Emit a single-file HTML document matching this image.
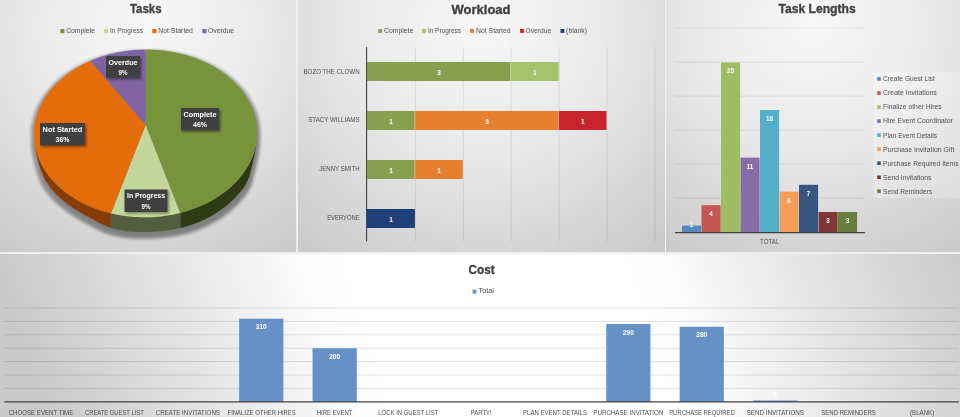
<!DOCTYPE html>
<html><head><meta charset="utf-8"><title>Dashboard</title>
<style>html,body{margin:0;padding:0;background:#efefef;width:960px;height:417px;overflow:hidden}svg{display:block}</style>
</head><body>
<svg width="960" height="417" viewBox="0 0 960 417" font-family="Liberation Sans, Arial, sans-serif">
<defs>
<radialGradient id="g1" gradientUnits="userSpaceOnUse" cx="148" cy="25" r="285"><stop offset="0" stop-color="#f8f8f8"/><stop offset="0.45" stop-color="#e8e8e8"/><stop offset="0.7" stop-color="#d8d8d8"/><stop offset="1" stop-color="#c6c6c6"/></radialGradient>
<radialGradient id="g3" gradientUnits="userSpaceOnUse" cx="481" cy="25" r="305"><stop offset="0" stop-color="#f8f8f8"/><stop offset="0.45" stop-color="#e8e8e8"/><stop offset="0.7" stop-color="#d8d8d8"/><stop offset="1" stop-color="#c6c6c6"/></radialGradient>
<radialGradient id="g4" gradientUnits="userSpaceOnUse" cx="813" cy="25" r="285"><stop offset="0" stop-color="#f8f8f8"/><stop offset="0.45" stop-color="#e8e8e8"/><stop offset="0.7" stop-color="#d8d8d8"/><stop offset="1" stop-color="#c6c6c6"/></radialGradient>
<linearGradient id="g2" gradientUnits="userSpaceOnUse" x1="52.5" y1="431" x2="927.5" y2="129"><stop offset="0" stop-color="#c9c9c9"/><stop offset="0.309" stop-color="#fbfbfb"/><stop offset="0.36" stop-color="#ffffff"/><stop offset="0.64" stop-color="#ffffff"/><stop offset="0.691" stop-color="#fbfbfb"/><stop offset="1" stop-color="#c9c9c9"/></linearGradient>
<filter id="sh" x="-20%" y="-20%" width="140%" height="160%"><feGaussianBlur stdDeviation="2.5"/></filter><filter id="sh2" x="-20%" y="-20%" width="140%" height="160%"><feMorphology operator="dilate" radius="2.5"/><feGaussianBlur stdDeviation="1.8"/></filter>
<filter id="lsh" x="-20%" y="-20%" width="150%" height="150%"><feDropShadow dx="1.5" dy="1.5" stdDeviation="1" flood-color="#000" flood-opacity="0.4"/></filter>
</defs>
<rect width="960" height="417" fill="#efefef"/>
<rect x="0" y="0" width="296" height="252" fill="url(#g1)"/>
<rect x="298" y="0" width="367" height="252" fill="url(#g3)"/>
<rect x="666" y="0" width="294" height="252" fill="url(#g4)"/>
<rect x="0" y="254" width="960" height="163" fill="url(#g2)"/>
<text x="129.90" y="13.35" font-size="13.70" fill="#404040" font-weight="bold" textLength="31.65" lengthAdjust="spacingAndGlyphs" stroke="#404040" stroke-width="0.35">Tasks</text>
<rect x="60.3" y="29" width="4.2" height="4.2" fill="#77933c"/>
<text x="66.25" y="33.00" font-size="6.40" fill="#4f4f4f" textLength="28.85" lengthAdjust="spacingAndGlyphs">Complete</text>
<rect x="104.2" y="29" width="4.2" height="4.2" fill="#c3d69b"/>
<text x="110.00" y="33.00" font-size="6.40" fill="#4f4f4f" textLength="33.00" lengthAdjust="spacingAndGlyphs">In Progress</text>
<rect x="152.3" y="29" width="4.2" height="4.2" fill="#e46c0a"/>
<text x="158.30" y="33.00" font-size="6.40" fill="#4f4f4f" textLength="34.60" lengthAdjust="spacingAndGlyphs">Not Started</text>
<rect x="202.3" y="29" width="4.2" height="4.2" fill="#8064a2"/>
<text x="208.00" y="33.00" font-size="6.40" fill="#4f4f4f" textLength="26.00" lengthAdjust="spacingAndGlyphs">Overdue</text>
<g opacity="0.13" transform="translate(2 6)" filter="url(#sh)"><polygon points="145.6,49.5 149.1,49.5 152.6,49.6 156.1,49.8 159.6,50.1 163.1,50.4 166.6,50.9 170.0,51.4 173.4,52.0 176.9,52.7 180.2,53.4 183.6,54.3 186.9,55.2 190.2,56.2 193.4,57.3 196.6,58.5 199.7,59.7 202.8,61.0 205.9,62.4 208.9,63.9 211.8,65.5 214.6,67.1 217.4,68.8 220.2,70.5 222.8,72.4 225.4,74.3 227.9,76.3 230.3,78.3 232.7,80.4 234.9,82.6 237.1,84.8 239.1,87.1 241.1,89.4 243.0,91.8 244.7,94.3 246.4,96.8 247.9,99.4 249.4,102.0 250.7,104.6 251.9,107.3 253.0,110.0 254.0,112.8 254.8,115.6 255.5,118.4 256.1,121.3 256.6,124.2 256.9,127.1 257.1,130.0 257.2,132.9 257.1,135.9 256.8,138.8 256.5,141.8 256.0,144.8 255.3,147.7 254.6,150.7 253.6,153.6 252.6,156.5 251.3,159.4 250.0,162.3 248.5,165.1 246.8,168.0 245.0,170.7 243.1,173.5 241.1,176.2 238.9,178.8 236.5,181.4 234.1,183.9 231.5,186.4 228.7,188.8 225.9,191.1 222.9,193.3 219.8,195.5 216.6,197.6 213.3,199.6 209.9,201.5 206.4,203.3 202.8,205.0 199.1,206.6 195.3,208.1 191.5,209.5 187.5,210.8 183.5,212.0 179.5,213.1 175.3,214.0 171.2,214.9 167.0,215.6 162.7,216.2 158.5,216.6 154.2,217.0 149.9,217.2 145.6,217.3 141.2,217.2 136.9,217.1 132.7,216.8 128.4,216.4 124.1,215.9 119.9,215.2 115.8,214.4 111.7,213.5 107.6,212.5 103.6,211.4 99.7,210.1 95.8,208.8 92.0,207.3 88.3,205.8 84.7,204.1 81.2,202.3 77.8,200.5 74.5,198.5 71.3,196.5 68.2,194.3 65.2,192.1 62.4,189.8 59.7,187.5 57.1,185.1 54.6,182.6 52.3,180.0 50.1,177.4 48.0,174.7 46.1,172.0 44.3,169.3 42.6,166.5 41.1,163.7 39.8,160.8 38.6,157.9 37.5,155.0 36.6,152.1 35.8,149.2 35.1,146.2 34.6,143.3 34.3,140.3 34.0,137.3 34.0,134.4 34.0,131.5 34.2,128.5 34.5,125.6 35.0,122.7 35.6,119.9 36.3,117.0 37.1,114.2 38.1,111.4 39.2,108.7 40.4,106.0 41.7,103.3 43.2,100.7 44.7,98.1 46.4,95.6 48.2,93.1 50.0,90.7 52.0,88.3 54.0,86.0 56.2,83.7 58.5,81.5 60.8,79.4 63.2,77.3 65.7,75.3 68.3,73.4 70.9,71.5 73.7,69.7 76.5,68.0 79.3,66.3 82.3,64.7 85.2,63.2 88.3,61.8 91.4,60.4 94.5,59.1 97.7,57.9 101.0,56.8 104.2,55.8 107.5,54.8 110.9,53.9 114.3,53.1 117.7,52.4 121.1,51.7 124.6,51.2 128.0,50.7 131.5,50.3 135.0,50.0 138.5,49.7 142.0,49.6"/><polygon points="34.5,125.6 35.0,122.7 35.6,119.9 36.3,117.0 37.1,114.2 38.1,111.4 39.2,108.7 40.4,106.0 41.7,103.3 43.2,100.7 44.7,98.1 46.4,95.6 48.2,93.1 50.0,90.7 52.0,88.3 54.0,86.0 56.2,83.7 58.5,81.5 60.8,79.4 63.2,77.3 65.7,75.3 68.3,73.4 70.9,71.5 73.7,69.7 76.5,68.0 79.3,66.3 82.3,64.7 85.2,63.2 88.3,61.8 91.4,60.4 94.5,59.1 97.7,57.9 101.0,56.8 104.2,55.8 107.5,54.8 110.9,53.9 114.3,53.1 117.7,52.4 121.1,51.7 124.6,51.2 128.0,50.7 131.5,50.3 135.0,50.0 138.5,49.7 142.0,49.6 145.6,49.5 149.1,49.5 152.6,49.6 156.1,49.8 159.6,50.1 163.1,50.4 166.6,50.9 170.0,51.4 173.4,52.0 176.9,52.7 180.2,53.4 183.6,54.3 186.9,55.2 190.2,56.2 193.4,57.3 196.6,58.5 199.7,59.7 202.8,61.0 205.9,62.4 208.9,63.9 211.8,65.5 214.6,67.1 217.4,68.8 220.2,70.5 222.8,72.4 225.4,74.3 227.9,76.3 230.3,78.3 232.7,80.4 234.9,82.6 237.1,84.8 239.1,87.1 241.1,89.4 243.0,91.8 244.7,94.3 246.4,96.8 247.9,99.4 249.4,102.0 250.7,104.6 251.9,107.3 253.0,110.0 254.0,112.8 254.8,115.6 255.5,118.4 256.1,121.3 256.6,124.8 256.8,126.0 256.9,127.2 257.0,128.5 257.1,130.0 257.1,131.5 257.2,132.9 257.1,134.4 257.1,135.9 257.0,137.4 256.8,139.1 256.7,140.8 256.5,142.6 256.3,144.4 256.0,146.3 255.7,148.2 255.3,150.2 255.0,152.2 254.6,154.3 254.1,156.5 253.6,158.7 253.1,160.9 252.6,163.4 252.0,165.9 251.3,168.5 250.7,171.2 250.0,174.0 249.2,176.8 248.5,178.8 247.7,180.5 246.8,182.1 246.0,183.8 245.0,185.4 244.1,187.1 243.1,188.4 242.1,189.8 241.1,191.1 240.0,192.4 238.9,193.6 237.7,194.9 236.5,196.2 235.3,197.5 234.1,198.8 232.8,200.0 231.5,201.3 230.1,202.5 228.7,203.7 227.3,204.9 225.9,206.1 224.4,207.2 222.9,208.4 221.4,209.5 219.8,210.6 218.3,211.7 216.6,212.7 215.0,213.7 213.3,214.8 211.6,215.8 209.9,216.7 208.2,217.7 206.4,218.6 204.6,219.5 202.8,220.3 201.0,221.1 199.1,221.9 197.2,222.7 195.3,223.4 193.4,224.2 191.5,224.8 189.5,225.5 187.5,226.1 185.5,226.7 183.5,227.3 181.5,227.8 179.5,228.3 177.4,228.7 175.3,229.1 173.3,229.5 171.2,229.9 169.1,230.2 167.0,230.5 164.9,230.8 162.7,231.1 160.6,231.3 158.5,231.5 156.3,231.6 154.2,231.7 152.0,231.8 149.9,231.9 147.7,232.0 145.6,232.0 143.4,232.1 141.2,232.1 139.1,232.0 136.9,232.0 134.8,231.9 132.7,231.7 130.5,231.6 128.4,231.4 126.3,231.1 124.1,230.7 122.0,230.4 119.9,230.0 117.9,229.5 115.8,229.1 113.7,228.6 111.7,228.0 109.6,227.3 107.6,226.6 105.6,225.7 103.6,224.9 101.6,224.0 99.7,223.1 97.7,222.0 95.8,220.9 93.9,219.8 92.0,218.8 90.2,217.8 88.3,216.9 86.5,215.9 84.7,214.9 82.9,213.9 81.2,212.9 79.5,211.9 77.8,210.8 76.1,209.8 74.5,208.7 72.9,207.7 71.3,206.6 69.7,205.4 68.2,204.3 66.7,203.3 65.2,202.1 63.8,201.0 62.4,199.8 61.0,198.7 59.7,197.5 58.3,196.3 57.1,195.1 55.8,193.8 54.6,192.5 53.4,191.1 52.3,189.8 51.1,188.5 50.1,187.1 49.0,185.7 48.0,184.4 47.0,183.0 46.1,181.6 45.2,180.2 44.3,178.4 43.4,176.5 42.6,174.6 41.9,172.7 41.1,170.8 40.4,169.0 39.8,167.1 39.2,164.9 38.6,162.9 38.0,160.8 37.5,158.8 37.0,156.8 36.6,154.9 36.2,152.9 35.8,151.1 35.4,149.2 35.1,147.4 34.9,145.7 34.6,143.9 34.4,142.2 34.3,140.6 34.1,139.0 34.0,137.4 34.0,135.9 34.0,134.4 34.0,132.9 34.0,131.5 34.1,130.1 34.2,128.8 34.4,127.5 34.5,126.2"/></g>
<g opacity="0.32" transform="translate(0 3.5)" filter="url(#sh2)"><polygon points="145.6,49.5 149.1,49.5 152.6,49.6 156.1,49.8 159.6,50.1 163.1,50.4 166.6,50.9 170.0,51.4 173.4,52.0 176.9,52.7 180.2,53.4 183.6,54.3 186.9,55.2 190.2,56.2 193.4,57.3 196.6,58.5 199.7,59.7 202.8,61.0 205.9,62.4 208.9,63.9 211.8,65.5 214.6,67.1 217.4,68.8 220.2,70.5 222.8,72.4 225.4,74.3 227.9,76.3 230.3,78.3 232.7,80.4 234.9,82.6 237.1,84.8 239.1,87.1 241.1,89.4 243.0,91.8 244.7,94.3 246.4,96.8 247.9,99.4 249.4,102.0 250.7,104.6 251.9,107.3 253.0,110.0 254.0,112.8 254.8,115.6 255.5,118.4 256.1,121.3 256.6,124.2 256.9,127.1 257.1,130.0 257.2,132.9 257.1,135.9 256.8,138.8 256.5,141.8 256.0,144.8 255.3,147.7 254.6,150.7 253.6,153.6 252.6,156.5 251.3,159.4 250.0,162.3 248.5,165.1 246.8,168.0 245.0,170.7 243.1,173.5 241.1,176.2 238.9,178.8 236.5,181.4 234.1,183.9 231.5,186.4 228.7,188.8 225.9,191.1 222.9,193.3 219.8,195.5 216.6,197.6 213.3,199.6 209.9,201.5 206.4,203.3 202.8,205.0 199.1,206.6 195.3,208.1 191.5,209.5 187.5,210.8 183.5,212.0 179.5,213.1 175.3,214.0 171.2,214.9 167.0,215.6 162.7,216.2 158.5,216.6 154.2,217.0 149.9,217.2 145.6,217.3 141.2,217.2 136.9,217.1 132.7,216.8 128.4,216.4 124.1,215.9 119.9,215.2 115.8,214.4 111.7,213.5 107.6,212.5 103.6,211.4 99.7,210.1 95.8,208.8 92.0,207.3 88.3,205.8 84.7,204.1 81.2,202.3 77.8,200.5 74.5,198.5 71.3,196.5 68.2,194.3 65.2,192.1 62.4,189.8 59.7,187.5 57.1,185.1 54.6,182.6 52.3,180.0 50.1,177.4 48.0,174.7 46.1,172.0 44.3,169.3 42.6,166.5 41.1,163.7 39.8,160.8 38.6,157.9 37.5,155.0 36.6,152.1 35.8,149.2 35.1,146.2 34.6,143.3 34.3,140.3 34.0,137.3 34.0,134.4 34.0,131.5 34.2,128.5 34.5,125.6 35.0,122.7 35.6,119.9 36.3,117.0 37.1,114.2 38.1,111.4 39.2,108.7 40.4,106.0 41.7,103.3 43.2,100.7 44.7,98.1 46.4,95.6 48.2,93.1 50.0,90.7 52.0,88.3 54.0,86.0 56.2,83.7 58.5,81.5 60.8,79.4 63.2,77.3 65.7,75.3 68.3,73.4 70.9,71.5 73.7,69.7 76.5,68.0 79.3,66.3 82.3,64.7 85.2,63.2 88.3,61.8 91.4,60.4 94.5,59.1 97.7,57.9 101.0,56.8 104.2,55.8 107.5,54.8 110.9,53.9 114.3,53.1 117.7,52.4 121.1,51.7 124.6,51.2 128.0,50.7 131.5,50.3 135.0,50.0 138.5,49.7 142.0,49.6"/><polygon points="34.5,125.6 35.0,122.7 35.6,119.9 36.3,117.0 37.1,114.2 38.1,111.4 39.2,108.7 40.4,106.0 41.7,103.3 43.2,100.7 44.7,98.1 46.4,95.6 48.2,93.1 50.0,90.7 52.0,88.3 54.0,86.0 56.2,83.7 58.5,81.5 60.8,79.4 63.2,77.3 65.7,75.3 68.3,73.4 70.9,71.5 73.7,69.7 76.5,68.0 79.3,66.3 82.3,64.7 85.2,63.2 88.3,61.8 91.4,60.4 94.5,59.1 97.7,57.9 101.0,56.8 104.2,55.8 107.5,54.8 110.9,53.9 114.3,53.1 117.7,52.4 121.1,51.7 124.6,51.2 128.0,50.7 131.5,50.3 135.0,50.0 138.5,49.7 142.0,49.6 145.6,49.5 149.1,49.5 152.6,49.6 156.1,49.8 159.6,50.1 163.1,50.4 166.6,50.9 170.0,51.4 173.4,52.0 176.9,52.7 180.2,53.4 183.6,54.3 186.9,55.2 190.2,56.2 193.4,57.3 196.6,58.5 199.7,59.7 202.8,61.0 205.9,62.4 208.9,63.9 211.8,65.5 214.6,67.1 217.4,68.8 220.2,70.5 222.8,72.4 225.4,74.3 227.9,76.3 230.3,78.3 232.7,80.4 234.9,82.6 237.1,84.8 239.1,87.1 241.1,89.4 243.0,91.8 244.7,94.3 246.4,96.8 247.9,99.4 249.4,102.0 250.7,104.6 251.9,107.3 253.0,110.0 254.0,112.8 254.8,115.6 255.5,118.4 256.1,121.3 256.6,124.8 256.8,126.0 256.9,127.2 257.0,128.5 257.1,130.0 257.1,131.5 257.2,132.9 257.1,134.4 257.1,135.9 257.0,137.4 256.8,139.1 256.7,140.8 256.5,142.6 256.3,144.4 256.0,146.3 255.7,148.2 255.3,150.2 255.0,152.2 254.6,154.3 254.1,156.5 253.6,158.7 253.1,160.9 252.6,163.4 252.0,165.9 251.3,168.5 250.7,171.2 250.0,174.0 249.2,176.8 248.5,178.8 247.7,180.5 246.8,182.1 246.0,183.8 245.0,185.4 244.1,187.1 243.1,188.4 242.1,189.8 241.1,191.1 240.0,192.4 238.9,193.6 237.7,194.9 236.5,196.2 235.3,197.5 234.1,198.8 232.8,200.0 231.5,201.3 230.1,202.5 228.7,203.7 227.3,204.9 225.9,206.1 224.4,207.2 222.9,208.4 221.4,209.5 219.8,210.6 218.3,211.7 216.6,212.7 215.0,213.7 213.3,214.8 211.6,215.8 209.9,216.7 208.2,217.7 206.4,218.6 204.6,219.5 202.8,220.3 201.0,221.1 199.1,221.9 197.2,222.7 195.3,223.4 193.4,224.2 191.5,224.8 189.5,225.5 187.5,226.1 185.5,226.7 183.5,227.3 181.5,227.8 179.5,228.3 177.4,228.7 175.3,229.1 173.3,229.5 171.2,229.9 169.1,230.2 167.0,230.5 164.9,230.8 162.7,231.1 160.6,231.3 158.5,231.5 156.3,231.6 154.2,231.7 152.0,231.8 149.9,231.9 147.7,232.0 145.6,232.0 143.4,232.1 141.2,232.1 139.1,232.0 136.9,232.0 134.8,231.9 132.7,231.7 130.5,231.6 128.4,231.4 126.3,231.1 124.1,230.7 122.0,230.4 119.9,230.0 117.9,229.5 115.8,229.1 113.7,228.6 111.7,228.0 109.6,227.3 107.6,226.6 105.6,225.7 103.6,224.9 101.6,224.0 99.7,223.1 97.7,222.0 95.8,220.9 93.9,219.8 92.0,218.8 90.2,217.8 88.3,216.9 86.5,215.9 84.7,214.9 82.9,213.9 81.2,212.9 79.5,211.9 77.8,210.8 76.1,209.8 74.5,208.7 72.9,207.7 71.3,206.6 69.7,205.4 68.2,204.3 66.7,203.3 65.2,202.1 63.8,201.0 62.4,199.8 61.0,198.7 59.7,197.5 58.3,196.3 57.1,195.1 55.8,193.8 54.6,192.5 53.4,191.1 52.3,189.8 51.1,188.5 50.1,187.1 49.0,185.7 48.0,184.4 47.0,183.0 46.1,181.6 45.2,180.2 44.3,178.4 43.4,176.5 42.6,174.6 41.9,172.7 41.1,170.8 40.4,169.0 39.8,167.1 39.2,164.9 38.6,162.9 38.0,160.8 37.5,158.8 37.0,156.8 36.6,154.9 36.2,152.9 35.8,151.1 35.4,149.2 35.1,147.4 34.9,145.7 34.6,143.9 34.4,142.2 34.3,140.6 34.1,139.0 34.0,137.4 34.0,135.9 34.0,134.4 34.0,132.9 34.0,131.5 34.1,130.1 34.2,128.8 34.4,127.5 34.5,126.2"/></g>
<polygon points="256.6,124.2 256.8,126.4 257.0,128.6 257.1,130.8 257.2,133.0 257.1,135.2 257.0,137.4 256.8,139.6 256.5,141.8 256.1,144.1 255.7,146.3 255.1,148.5 254.5,150.7 253.9,152.9 253.1,155.1 252.2,157.3 251.3,159.5 250.3,161.7 249.2,163.8 248.0,165.9 246.8,168.0 245.5,170.1 244.0,172.2 242.6,174.2 241.0,176.3 239.3,178.2 237.6,180.2 235.8,182.1 234.0,184.0 232.0,185.9 230.0,187.7 227.9,189.5 225.8,191.2 223.5,192.9 221.2,194.5 218.9,196.1 216.5,197.7 214.0,199.2 211.5,200.7 208.9,202.1 206.2,203.4 203.5,204.7 200.7,205.9 197.9,207.1 195.1,208.2 192.2,209.3 189.2,210.3 186.3,211.2 183.3,212.1 180.2,212.9 180.2,228.1 183.3,227.3 186.3,226.5 189.2,225.6 192.2,224.6 195.1,223.5 197.9,222.4 200.7,221.2 203.5,220.0 206.2,218.7 208.9,217.3 211.5,215.9 214.0,214.4 216.5,212.8 218.9,211.2 221.2,209.6 223.5,207.9 225.8,206.2 227.9,204.4 230.0,202.6 232.0,200.7 234.0,198.9 235.8,196.9 237.6,195.0 239.3,193.1 241.0,191.2 242.6,189.2 244.0,187.2 245.5,184.7 246.8,182.2 248.0,179.7 249.2,176.9 250.3,172.7 251.3,168.7 252.2,164.7 253.1,161.0 253.9,157.6 254.5,154.4 255.1,151.3 255.7,148.3 256.1,145.4 256.5,142.6 256.8,140.0 257.0,137.4 257.1,135.2 257.2,133.0 257.1,130.8 257.0,128.6 256.8,126.6 256.6,124.8" fill="#2f3b14"/>
<polygon points="180.2,212.9 177.0,213.7 173.8,214.4 170.5,215.0 167.2,215.5 163.9,216.0 160.6,216.4 157.3,216.7 154.0,217.0 150.6,217.2 147.2,217.3 143.9,217.3 140.5,217.2 137.2,217.1 133.8,216.9 130.5,216.6 127.2,216.2 123.9,215.8 120.6,215.3 117.3,214.7 114.1,214.1 110.9,213.4 110.9,227.8 114.1,228.7 117.3,229.4 120.6,230.1 123.9,230.7 127.2,231.2 130.5,231.6 133.8,231.8 137.2,232.0 140.5,232.0 143.9,232.1 147.2,232.0 150.6,231.9 154.0,231.7 157.3,231.5 160.6,231.3 163.9,230.9 167.2,230.5 170.5,230.0 173.8,229.4 177.0,228.8 180.2,228.1" fill="#535e3f"/>
<polygon points="110.9,213.4 107.9,212.6 104.8,211.8 101.9,210.9 98.9,209.9 96.0,208.9 93.2,207.8 90.4,206.7 87.6,205.5 84.9,204.2 82.3,202.9 79.7,201.5 77.1,200.1 74.6,198.6 72.2,197.1 69.9,195.5 67.6,193.9 65.4,192.2 63.2,190.5 61.1,188.8 59.1,187.0 57.2,185.2 55.3,183.3 53.5,181.4 51.8,179.5 50.1,177.5 48.6,175.5 47.1,173.5 45.7,171.4 44.3,169.4 43.1,167.3 41.9,165.1 40.8,163.0 39.8,160.9 38.9,158.7 38.0,156.5 37.3,154.3 36.6,152.1 36.0,149.9 35.4,147.7 35.0,145.5 34.6,143.3 34.3,141.1 34.1,138.8 34.0,136.6 34.0,134.4 34.0,132.2 34.1,130.0 34.3,127.8 34.5,125.6 34.5,126.2 34.3,128.1 34.1,130.1 34.0,132.2 34.0,134.4 34.0,136.6 34.1,139.0 34.3,141.4 34.6,144.0 35.0,146.6 35.4,149.3 36.0,152.1 36.6,154.9 37.3,157.9 38.0,160.9 38.9,164.0 39.8,167.2 40.8,170.0 41.9,172.8 43.1,175.6 44.3,178.5 45.7,181.0 47.1,183.1 48.6,185.1 50.1,187.2 51.8,189.2 53.5,191.2 55.3,193.2 57.2,195.2 59.1,197.0 61.1,198.8 63.2,200.5 65.4,202.2 67.6,203.9 69.9,205.6 72.2,207.2 74.6,208.9 77.1,210.4 79.7,212.0 82.3,213.5 84.9,215.0 87.6,216.5 90.4,217.9 93.2,219.3 96.0,221.0 98.9,222.7 101.9,224.1 104.8,225.4 107.9,226.7 110.9,227.8" fill="#873c06"/>
<polygon points="145.6,124.9 145.6,49.5 148.2,49.5 150.8,49.6 153.5,49.7 156.1,49.8 158.7,50.0 161.4,50.3 164.0,50.5 166.6,50.9 169.2,51.3 171.8,51.7 174.3,52.2 176.9,52.7 179.4,53.3 181.9,53.9 184.4,54.5 186.9,55.2 189.4,56.0 191.8,56.8 194.2,57.6 196.6,58.5 199.0,59.4 201.3,60.4 203.6,61.4 205.9,62.5 208.2,63.6 210.4,64.7 212.6,65.9 214.7,67.1 216.8,68.4 218.9,69.7 220.9,71.0 222.9,72.4 224.8,73.8 226.7,75.3 228.6,76.8 230.4,78.3 232.1,79.9 233.9,81.5 235.5,83.2 237.1,84.9 238.7,86.6 240.2,88.3 241.6,90.1 243.0,91.9 244.3,93.7 245.6,95.6 246.8,97.5 248.0,99.4 249.1,101.4 250.1,103.4 251.1,105.4 251.9,107.4 252.8,109.4 253.5,111.5 254.2,113.6 254.8,115.7 255.4,117.8 255.9,120.0 256.3,122.1 256.6,124.3 256.8,126.5 257.0,128.7 257.1,130.9 257.2,133.1 257.1,135.3 257.0,137.5 256.8,139.7 256.5,141.9 256.1,144.2 255.7,146.4 255.1,148.6 254.5,150.8 253.8,153.0 253.1,155.2 252.2,157.4 251.3,159.6 250.3,161.7 249.2,163.9 248.0,166.0 246.7,168.1 245.4,170.2 244.0,172.3 242.5,174.3 240.9,176.3 239.3,178.3 237.6,180.2 235.8,182.2 233.9,184.0 232.0,185.9 230.0,187.7 227.9,189.5 225.7,191.2 223.5,192.9 221.2,194.6 218.9,196.2 216.4,197.7 214.0,199.2 211.4,200.7 208.8,202.1 206.2,203.4 203.5,204.7 200.7,205.9 197.9,207.1 195.1,208.2 192.2,209.3 189.2,210.3 186.3,211.2 183.3,212.1 180.2,212.9" fill="#77933c"/>
<polygon points="145.6,124.9 180.2,212.9 177.0,213.7 173.8,214.4 170.5,215.0 167.2,215.5 163.9,216.0 160.6,216.4 157.3,216.7 154.0,217.0 150.6,217.2 147.2,217.3 143.9,217.3 140.5,217.2 137.2,217.1 133.8,216.9 130.5,216.6 127.2,216.2 123.9,215.8 120.6,215.3 117.3,214.7 114.1,214.1 110.9,213.4" fill="#c3d69b"/>
<polygon points="145.6,124.9 110.9,213.4 107.9,212.6 104.8,211.8 101.9,210.9 98.9,209.9 96.0,208.9 93.2,207.8 90.3,206.6 87.6,205.4 84.9,204.2 82.2,202.9 79.6,201.5 77.1,200.1 74.6,198.6 72.2,197.1 69.8,195.5 67.5,193.9 65.3,192.2 63.2,190.5 61.1,188.7 59.0,186.9 57.1,185.1 55.2,183.2 53.4,181.3 51.7,179.4 50.1,177.4 48.5,175.4 47.0,173.4 45.6,171.4 44.3,169.3 43.0,167.2 41.9,165.1 40.8,162.9 39.8,160.8 38.8,158.6 38.0,156.4 37.2,154.2 36.5,152.0 35.9,149.8 35.4,147.6 35.0,145.4 34.6,143.2 34.3,140.9 34.1,138.7 34.0,136.5 34.0,134.3 34.0,132.1 34.1,129.9 34.3,127.7 34.6,125.5 34.9,123.3 35.3,121.1 35.8,119.0 36.3,116.9 37.0,114.7 37.7,112.6 38.4,110.6 39.3,108.5 40.2,106.5 41.2,104.5 42.2,102.5 43.3,100.5 44.5,98.6 45.7,96.6 47.0,94.8 48.3,92.9 49.7,91.1 51.2,89.3 52.7,87.5 54.2,85.8 55.9,84.1 57.5,82.4 59.3,80.8 61.0,79.2 62.9,77.6 64.7,76.1 66.6,74.6 68.6,73.2 70.6,71.8 72.6,70.4 74.7,69.1 76.8,67.8 79.0,66.5 81.2,65.3 83.4,64.1 85.6,63.0 87.9,61.9 90.3,60.9" fill="#e46c0a"/>
<polygon points="145.6,124.9 90.3,60.9 92.7,59.9 95.1,58.9 97.6,58.0 100.2,57.1 102.7,56.2 105.3,55.4 107.8,54.7 110.5,54.0 113.1,53.4 115.7,52.8 118.4,52.2 121.1,51.7 123.7,51.3 126.4,50.9 129.2,50.5 131.9,50.2 134.6,50.0 137.3,49.8 140.1,49.7 142.8,49.6 145.6,49.5" fill="#8064a2"/>
<rect x="106" y="56" width="34" height="22" fill="#404040" filter="url(#lsh)"/>
<text x="108.50" y="64.80" font-size="7.20" fill="#ffffff" font-weight="bold" textLength="29.00" lengthAdjust="spacingAndGlyphs">Overdue</text>
<text x="118.50" y="75.20" font-size="7.20" fill="#ffffff" font-weight="bold" textLength="9.00" lengthAdjust="spacingAndGlyphs">9%</text>
<rect x="181" y="108" width="38" height="22.5" fill="#404040" filter="url(#lsh)"/>
<text x="183.50" y="116.80" font-size="7.20" fill="#ffffff" font-weight="bold" textLength="33.00" lengthAdjust="spacingAndGlyphs">Complete</text>
<text x="193.00" y="127.20" font-size="7.20" fill="#ffffff" font-weight="bold" textLength="14.00" lengthAdjust="spacingAndGlyphs">46%</text>
<rect x="40" y="123" width="45" height="22.5" fill="#404040" filter="url(#lsh)"/>
<text x="42.60" y="131.80" font-size="7.20" fill="#ffffff" font-weight="bold" textLength="39.80" lengthAdjust="spacingAndGlyphs">Not Started</text>
<text x="55.50" y="142.20" font-size="7.20" fill="#ffffff" font-weight="bold" textLength="14.00" lengthAdjust="spacingAndGlyphs">36%</text>
<rect x="124.5" y="189.5" width="43" height="22.5" fill="#404040" filter="url(#lsh)"/>
<text x="127.00" y="198.30" font-size="7.20" fill="#ffffff" font-weight="bold" textLength="38.00" lengthAdjust="spacingAndGlyphs">In Progress</text>
<text x="141.50" y="208.70" font-size="7.20" fill="#ffffff" font-weight="bold" textLength="9.00" lengthAdjust="spacingAndGlyphs">9%</text>
<text x="451.40" y="13.50" font-size="13.70" fill="#404040" font-weight="bold" textLength="59.19" lengthAdjust="spacingAndGlyphs" stroke="#404040" stroke-width="0.35">Workload</text>
<rect x="378.25" y="29" width="3.9" height="3.9" fill="#87a050"/>
<text x="384.00" y="33.20" font-size="6.40" fill="#4f4f4f" textLength="29.30" lengthAdjust="spacingAndGlyphs">Complete</text>
<rect x="422.1" y="29" width="3.9" height="3.9" fill="#a5c36b"/>
<text x="427.90" y="33.20" font-size="6.40" fill="#4f4f4f" textLength="33.20" lengthAdjust="spacingAndGlyphs">In Progress</text>
<rect x="470" y="29" width="3.9" height="3.9" fill="#e67f2e"/>
<text x="476.10" y="33.20" font-size="6.40" fill="#4f4f4f" textLength="34.50" lengthAdjust="spacingAndGlyphs">Not Started</text>
<rect x="520.1" y="29" width="3.9" height="3.9" fill="#c8242b"/>
<text x="525.50" y="33.20" font-size="6.40" fill="#4f4f4f" textLength="25.70" lengthAdjust="spacingAndGlyphs">Overdue</text>
<rect x="560.5" y="29" width="3.9" height="3.9" fill="#1f3f7a"/>
<text x="566.10" y="33.20" font-size="6.40" fill="#4f4f4f" textLength="21.00" lengthAdjust="spacingAndGlyphs">(blank)</text>
<line x1="415.4" y1="47" x2="415.4" y2="241.5" stroke="#000" stroke-opacity="0.09" stroke-width="1"/>
<line x1="463.3" y1="47" x2="463.3" y2="241.5" stroke="#000" stroke-opacity="0.09" stroke-width="1"/>
<line x1="511.2" y1="47" x2="511.2" y2="241.5" stroke="#000" stroke-opacity="0.09" stroke-width="1"/>
<line x1="559.1" y1="47" x2="559.1" y2="241.5" stroke="#000" stroke-opacity="0.09" stroke-width="1"/>
<line x1="607.0" y1="47" x2="607.0" y2="241.5" stroke="#000" stroke-opacity="0.09" stroke-width="1"/>
<line x1="654.9" y1="47" x2="654.9" y2="241.5" stroke="#000" stroke-opacity="0.09" stroke-width="1"/>
<line x1="366.6" y1="47" x2="366.6" y2="241.5" stroke="#404040" stroke-width="1.1"/>
<text x="303.50" y="73.70" font-size="7.00" fill="#4f4f4f" textLength="56.10" lengthAdjust="spacingAndGlyphs">BOZO THE CLOWN</text>
<rect x="367.00" y="62" width="143.70" height="19" fill="#87a050"/>
<text x="437.25" y="74.50" font-size="7.20" fill="#ffffff" font-weight="bold" textLength="3.60" lengthAdjust="spacingAndGlyphs">3</text>
<rect x="510.70" y="62" width="47.90" height="19" fill="#a5c36b"/>
<text x="533.05" y="74.50" font-size="7.20" fill="#ffffff" font-weight="bold" textLength="3.60" lengthAdjust="spacingAndGlyphs">1</text>
<line x1="510.70" y1="62" x2="510.70" y2="81" stroke="#ffffff" stroke-opacity="0.5" stroke-width="0.7"/>
<text x="308.20" y="122.00" font-size="7.00" fill="#4f4f4f" textLength="51.40" lengthAdjust="spacingAndGlyphs">STACY WILLIAMS</text>
<rect x="367.00" y="111" width="47.90" height="19" fill="#87a050"/>
<text x="389.35" y="123.50" font-size="7.20" fill="#ffffff" font-weight="bold" textLength="3.60" lengthAdjust="spacingAndGlyphs">1</text>
<rect x="414.90" y="111" width="143.70" height="19" fill="#e67f2e"/>
<text x="485.15" y="123.50" font-size="7.20" fill="#ffffff" font-weight="bold" textLength="3.60" lengthAdjust="spacingAndGlyphs">3</text>
<rect x="558.60" y="111" width="47.90" height="19" fill="#c8242b"/>
<text x="580.95" y="123.50" font-size="7.20" fill="#ffffff" font-weight="bold" textLength="3.60" lengthAdjust="spacingAndGlyphs">1</text>
<line x1="414.90" y1="111" x2="414.90" y2="130" stroke="#ffffff" stroke-opacity="0.5" stroke-width="0.7"/>
<line x1="558.60" y1="111" x2="558.60" y2="130" stroke="#ffffff" stroke-opacity="0.5" stroke-width="0.7"/>
<text x="319.20" y="170.90" font-size="7.00" fill="#4f4f4f" textLength="40.40" lengthAdjust="spacingAndGlyphs">JENNY SMITH</text>
<rect x="367.00" y="160" width="47.90" height="19" fill="#87a050"/>
<text x="389.35" y="172.50" font-size="7.20" fill="#ffffff" font-weight="bold" textLength="3.60" lengthAdjust="spacingAndGlyphs">1</text>
<rect x="414.90" y="160" width="47.90" height="19" fill="#e67f2e"/>
<text x="437.25" y="172.50" font-size="7.20" fill="#ffffff" font-weight="bold" textLength="3.60" lengthAdjust="spacingAndGlyphs">1</text>
<line x1="414.90" y1="160" x2="414.90" y2="179" stroke="#ffffff" stroke-opacity="0.5" stroke-width="0.7"/>
<text x="327.20" y="219.70" font-size="7.00" fill="#4f4f4f" textLength="32.40" lengthAdjust="spacingAndGlyphs">EVERYONE</text>
<rect x="367.00" y="209" width="47.90" height="19" fill="#1f3f7a"/>
<text x="389.35" y="221.50" font-size="7.20" fill="#ffffff" font-weight="bold" textLength="3.60" lengthAdjust="spacingAndGlyphs">1</text>
<text x="778.50" y="13.45" font-size="13.70" fill="#404040" font-weight="bold" textLength="77.20" lengthAdjust="spacingAndGlyphs" stroke="#404040" stroke-width="0.35">Task Lengths</text>
<line x1="674.5" y1="28.1" x2="864.5" y2="28.1" stroke="#000" stroke-opacity="0.085" stroke-width="1"/>
<line x1="674.5" y1="62.1" x2="864.5" y2="62.1" stroke="#000" stroke-opacity="0.085" stroke-width="1"/>
<line x1="674.5" y1="96.1" x2="864.5" y2="96.1" stroke="#000" stroke-opacity="0.085" stroke-width="1"/>
<line x1="674.5" y1="130.1" x2="864.5" y2="130.1" stroke="#000" stroke-opacity="0.085" stroke-width="1"/>
<line x1="674.5" y1="164.1" x2="864.5" y2="164.1" stroke="#000" stroke-opacity="0.085" stroke-width="1"/>
<line x1="674.5" y1="198.1" x2="864.5" y2="198.1" stroke="#000" stroke-opacity="0.085" stroke-width="1"/>
<rect x="682.00" y="225.60" width="19.10" height="6.80" fill="#5787c3"/>
<text x="689.81" y="226.60" font-size="7.20" fill="#ffffff" font-weight="bold" textLength="3.48" lengthAdjust="spacingAndGlyphs">1</text>
<rect x="701.50" y="205.20" width="19.10" height="27.20" fill="#c45754"/>
<text x="709.31" y="216.20" font-size="7.20" fill="#ffffff" font-weight="bold" textLength="3.48" lengthAdjust="spacingAndGlyphs">4</text>
<rect x="721.00" y="62.40" width="19.10" height="170.00" fill="#9fbe63"/>
<text x="727.07" y="73.40" font-size="7.20" fill="#ffffff" font-weight="bold" textLength="6.97" lengthAdjust="spacingAndGlyphs">25</text>
<rect x="740.50" y="157.60" width="19.10" height="74.80" fill="#886dab"/>
<text x="746.74" y="168.60" font-size="7.20" fill="#ffffff" font-weight="bold" textLength="6.62" lengthAdjust="spacingAndGlyphs">11</text>
<rect x="760.00" y="110.00" width="19.10" height="122.40" fill="#53b0ca"/>
<text x="766.07" y="121.00" font-size="7.20" fill="#ffffff" font-weight="bold" textLength="6.97" lengthAdjust="spacingAndGlyphs">18</text>
<rect x="779.50" y="191.60" width="19.10" height="40.80" fill="#f59d55"/>
<text x="787.31" y="202.60" font-size="7.20" fill="#ffffff" font-weight="bold" textLength="3.48" lengthAdjust="spacingAndGlyphs">6</text>
<rect x="799.00" y="184.80" width="19.10" height="47.60" fill="#365680"/>
<text x="806.81" y="195.80" font-size="7.20" fill="#ffffff" font-weight="bold" textLength="3.48" lengthAdjust="spacingAndGlyphs">7</text>
<rect x="818.50" y="212.00" width="19.10" height="20.40" fill="#813634"/>
<text x="826.31" y="223.00" font-size="7.20" fill="#ffffff" font-weight="bold" textLength="3.48" lengthAdjust="spacingAndGlyphs">3</text>
<rect x="838.00" y="212.00" width="19.10" height="20.40" fill="#687e3c"/>
<text x="845.81" y="223.00" font-size="7.20" fill="#ffffff" font-weight="bold" textLength="3.48" lengthAdjust="spacingAndGlyphs">3</text>
<line x1="675" y1="232.6" x2="865" y2="232.6" stroke="#404040" stroke-width="1.3"/>
<text x="760.10" y="244.10" font-size="7.20" fill="#4f4f4f" textLength="19.20" lengthAdjust="spacingAndGlyphs">TOTAL</text>
<rect x="873.4" y="71.4" width="86.6" height="126.4" fill="#ffffff" opacity="0.25"/>
<rect x="877.2" y="77.20" width="3.6" height="3.6" fill="#5787c3"/>
<text x="883.10" y="81.40" font-size="7.20" fill="#4f4f4f" textLength="51.70" lengthAdjust="spacingAndGlyphs">Create Guest List</text>
<rect x="877.2" y="91.23" width="3.6" height="3.6" fill="#c45754"/>
<text x="883.10" y="95.43" font-size="7.20" fill="#4f4f4f" textLength="53.70" lengthAdjust="spacingAndGlyphs">Create Invitations</text>
<rect x="877.2" y="105.26" width="3.6" height="3.6" fill="#9fbe63"/>
<text x="883.10" y="109.46" font-size="7.20" fill="#4f4f4f" textLength="58.60" lengthAdjust="spacingAndGlyphs">Finalize other Hires</text>
<rect x="877.2" y="119.29" width="3.6" height="3.6" fill="#886dab"/>
<text x="883.10" y="123.49" font-size="7.20" fill="#4f4f4f" textLength="69.80" lengthAdjust="spacingAndGlyphs">Hire Event Coordinator</text>
<rect x="877.2" y="133.32" width="3.6" height="3.6" fill="#53b0ca"/>
<text x="883.10" y="137.52" font-size="7.20" fill="#4f4f4f" textLength="53.90" lengthAdjust="spacingAndGlyphs">Plan Event Details</text>
<rect x="877.2" y="147.35" width="3.6" height="3.6" fill="#f59d55"/>
<text x="883.10" y="151.55" font-size="7.20" fill="#4f4f4f" textLength="71.20" lengthAdjust="spacingAndGlyphs">Purchase Invitation Gift</text>
<rect x="877.2" y="161.38" width="3.6" height="3.6" fill="#365680"/>
<text x="883.10" y="165.58" font-size="7.20" fill="#4f4f4f" textLength="75.40" lengthAdjust="spacingAndGlyphs">Purchase Required Items</text>
<rect x="877.2" y="175.41" width="3.6" height="3.6" fill="#813634"/>
<text x="883.10" y="179.61" font-size="7.20" fill="#4f4f4f" textLength="48.20" lengthAdjust="spacingAndGlyphs">Send Invitations</text>
<rect x="877.2" y="189.44" width="3.6" height="3.6" fill="#687e3c"/>
<text x="883.10" y="193.64" font-size="7.20" fill="#4f4f4f" textLength="49.10" lengthAdjust="spacingAndGlyphs">Send Reminders</text>
<text x="468.60" y="273.75" font-size="13.70" fill="#404040" font-weight="bold" textLength="26.00" lengthAdjust="spacingAndGlyphs" stroke="#404040" stroke-width="0.35">Cost</text>
<rect x="472.6" y="289.7" width="3.8" height="3.8" fill="#6691c7"/>
<text x="478.50" y="293.30" font-size="6.60" fill="#4f4f4f" textLength="15.40" lengthAdjust="spacingAndGlyphs">Total</text>
<line x1="4.3" y1="388.4" x2="958.7" y2="388.4" stroke="#000" stroke-opacity="0.12" stroke-width="1"/>
<line x1="4.3" y1="375.0" x2="958.7" y2="375.0" stroke="#000" stroke-opacity="0.12" stroke-width="1"/>
<line x1="4.3" y1="361.6" x2="958.7" y2="361.6" stroke="#000" stroke-opacity="0.12" stroke-width="1"/>
<line x1="4.3" y1="348.2" x2="958.7" y2="348.2" stroke="#000" stroke-opacity="0.12" stroke-width="1"/>
<line x1="4.3" y1="334.8" x2="958.7" y2="334.8" stroke="#000" stroke-opacity="0.12" stroke-width="1"/>
<line x1="4.3" y1="321.4" x2="958.7" y2="321.4" stroke="#000" stroke-opacity="0.12" stroke-width="1"/>
<line x1="4.3" y1="308.0" x2="958.7" y2="308.0" stroke="#000" stroke-opacity="0.12" stroke-width="1"/>
<text x="8.70" y="414.50" font-size="7.20" fill="#4f4f4f" textLength="64.60" lengthAdjust="spacingAndGlyphs">CHOOSE EVENT TIME</text>
<text x="85.00" y="414.50" font-size="7.20" fill="#4f4f4f" textLength="58.70" lengthAdjust="spacingAndGlyphs">CREATE GUEST LIST</text>
<text x="155.80" y="414.50" font-size="7.20" fill="#4f4f4f" textLength="64.20" lengthAdjust="spacingAndGlyphs">CREATE INVITATIONS</text>
<text x="227.50" y="414.50" font-size="7.20" fill="#4f4f4f" textLength="68.30" lengthAdjust="spacingAndGlyphs">FINALIZE OTHER HIRES</text>
<rect x="239.16" y="318.72" width="44.2" height="83.08" fill="#6691c7"/>
<text x="255.74" y="329.37" font-size="7.20" fill="#ffffff" font-weight="bold" textLength="11.05" lengthAdjust="spacingAndGlyphs">310</text>
<text x="316.70" y="414.50" font-size="7.20" fill="#4f4f4f" textLength="35.80" lengthAdjust="spacingAndGlyphs">HIRE EVENT</text>
<rect x="312.58" y="348.20" width="44.2" height="53.60" fill="#6691c7"/>
<text x="329.16" y="358.85" font-size="7.20" fill="#ffffff" font-weight="bold" textLength="11.05" lengthAdjust="spacingAndGlyphs">200</text>
<text x="378.30" y="414.50" font-size="7.20" fill="#4f4f4f" textLength="60.00" lengthAdjust="spacingAndGlyphs">LOCK IN GUEST LIST</text>
<text x="470.80" y="414.50" font-size="7.20" fill="#4f4f4f" textLength="20.90" lengthAdjust="spacingAndGlyphs">PARTY!</text>
<text x="523.00" y="414.50" font-size="7.20" fill="#4f4f4f" textLength="64.00" lengthAdjust="spacingAndGlyphs">PLAN EVENT DETAILS</text>
<text x="593.30" y="414.50" font-size="7.20" fill="#4f4f4f" textLength="70.00" lengthAdjust="spacingAndGlyphs">PURCHASE INVITATION</text>
<rect x="606.26" y="324.08" width="44.2" height="77.72" fill="#6691c7"/>
<text x="622.84" y="334.73" font-size="7.20" fill="#ffffff" font-weight="bold" textLength="11.05" lengthAdjust="spacingAndGlyphs">290</text>
<text x="669.20" y="414.50" font-size="7.20" fill="#4f4f4f" textLength="65.50" lengthAdjust="spacingAndGlyphs">PURCHASE REQUIRED</text>
<rect x="679.68" y="326.76" width="44.2" height="75.04" fill="#6691c7"/>
<text x="696.26" y="337.41" font-size="7.20" fill="#ffffff" font-weight="bold" textLength="11.05" lengthAdjust="spacingAndGlyphs">280</text>
<text x="746.70" y="414.50" font-size="7.20" fill="#4f4f4f" textLength="57.20" lengthAdjust="spacingAndGlyphs">SEND INVITATIONS</text>
<rect x="753.10" y="400.46" width="44.2" height="1.34" fill="#6691c7"/>
<text x="773.36" y="396.50" font-size="7.20" fill="#ffffff" font-weight="bold" textLength="3.68" lengthAdjust="spacingAndGlyphs">5</text>
<text x="821.30" y="414.50" font-size="7.20" fill="#4f4f4f" textLength="54.50" lengthAdjust="spacingAndGlyphs">SEND REMINDERS</text>
<text x="910.00" y="414.50" font-size="7.20" fill="#4f4f4f" textLength="24.20" lengthAdjust="spacingAndGlyphs">(BLANK)</text>
<line x1="4.3" y1="401.8" x2="958.7" y2="401.8" stroke="#404040" stroke-width="1.3"/>
</svg>
</body></html>
